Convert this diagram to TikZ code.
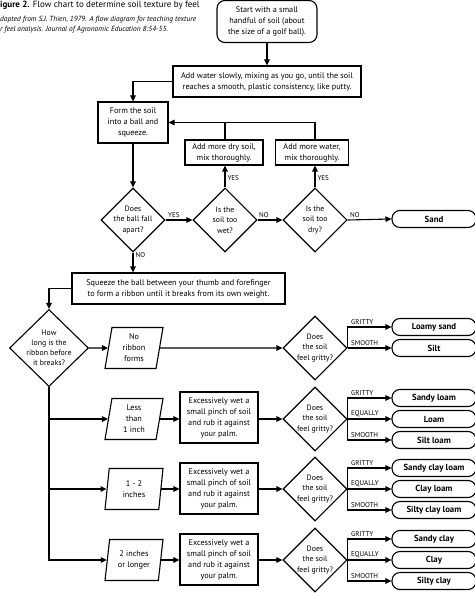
\documentclass[tikz,border=0pt]{standalone}
\usepackage{fontspec}
\setmainfont{PT Sans}
\usetikzlibrary{shapes.geometric,arrows.meta,calc}
\begin{document}
\begin{tikzpicture}[x=1pt,y=-1pt,
 every node/.style={font=\fontsize{8.2}{11}\selectfont},
 box/.style={draw,line width=1.1pt,align=center,inner sep=1pt},
 term/.style={draw,line width=1.1pt,rounded corners=8pt,minimum width=84pt,minimum height=17pt,inner sep=0pt,font=\fontsize{8.8}{10}\selectfont\bfseries},
 dia/.style={draw,diamond,line width=1.1pt,minimum width=64pt,minimum height=64pt,inner sep=0pt},
 dtext/.style={align=center,inner sep=0pt,font=\fontsize{7.8}{10.6}\selectfont},
 para/.style={draw,trapezium,trapezium left angle=76,trapezium right angle=104,trapezium stretches body,line width=1.1pt,minimum width=58pt,minimum height=41pt,inner sep=0pt,align=center},
 lab/.style={font=\fontsize{7}{7}\selectfont,inner sep=0pt},
 conn/.style={line width=1.1pt},
 arr/.style={conn,-{Triangle[length=6pt,width=5.5pt]}}]
\useasboundingbox (0,0) rectangle (474,593);
% caption
\node[anchor=base west,inner sep=0pt,font=\fontsize{9}{10}\selectfont] (cap1) at (0,8) {\textbf{igure 2.} Flow chart to determine soil texture by feel};
\node[anchor=base west,inner sep=0pt,font=\fontsize{7.4}{8}\selectfont\itshape] (cap2) at (0,22) {dapted from S.J. Thien, 1979. A flow diagram for teaching texture};
\node[anchor=base west,inner sep=0pt,font=\fontsize{7.4}{8}\selectfont\itshape] (cap3) at (0,32) {r feel analysis. Journal of Agronomic Education 8:54-55.};
% top part
\node[box,rounded corners=8pt,minimum width=100pt,minimum height=42pt] (start) at (267,21.5) {Start with a small\\handful of soil (about\\the size of a golf ball).};
\node[box,minimum width=188pt,minimum height=31pt] (water) at (267,81.5) {Add water slowly, mixing as you go, until the soil\\reaches a smooth, plastic consistency, like putty.};
\node[box,minimum width=70pt,minimum height=41pt] (form) at (133,122.5) {Form the soil\\into a ball and\\squeeze.};
\node[box,minimum width=78pt,minimum height=25pt] (dry) at (224,152.5) {Add more dry soil,\\mix thoroughly.};
\node[box,minimum width=73pt,minimum height=25pt] (wat2) at (312,152.5) {Add more water,\\mix thoroughly.};
\node[dia,label={[dtext]center:{Does\\the ball fall\\apart?}}] (d1) at (133,220) {};
\node[dia,label={[dtext]center:{Is the\\soil too\\wet?}}] (d2) at (225,220) {};
\node[dia,label={[dtext]center:{Is the\\soil too\\dry?}}] (d3) at (315,220) {};
\node[term] (sand) at (434,219) {Sand};
\node[box,minimum width=213pt,minimum height=31pt] (sq) at (178.5,288.5) {Squeeze the ball between your thumb and forefinger\\to form a ribbon until it breaks from its own weight.};
\node[dia,minimum width=79pt,minimum height=77pt,label={[dtext,font=\fontsize{7.8}{9.8}\selectfont]center:{How\\long is the\\ribbon before\\it breaks?}}] (d4) at (49,348) {};
% row 1
\node[para] (p1) at (134,348) {No\\ribbon\\forms};
\node[dia,label={[dtext]center:{Does\\the soil\\feel gritty?}}] (g1) at (315,348) {};
\node[term] (t11) at (434,327) {Loamy sand};
\node[term] (t12) at (434,348) {Silt};
% row 2
\node[para] (p2) at (134,419) {Less\\than\\1 inch};
\node[box,minimum width=78pt,minimum height=51pt] (e2) at (219,417.5) {Excessively wet a\\small pinch of soil\\and rub it against\\your palm.};
\node[dia,label={[dtext]center:{Does\\the soil\\feel gritty?}}] (g2) at (315,419) {};
\node[term] (t21) at (434,398) {Sandy loam};
\node[term] (t22) at (434,419) {Loam};
\node[term] (t23) at (434,440) {Silt loam};
% row 3
\node[para] (p3) at (134,489) {1 - 2\\inches};
\node[box,minimum width=78pt,minimum height=51pt] (e3) at (219,488.5) {Excessively wet a\\small pinch of soil\\and rub it against\\your palm.};
\node[dia,label={[dtext]center:{Does\\the soil\\feel gritty?}}] (g3) at (315,489) {};
\node[term] (t31) at (434,468) {Sandy clay loam};
\node[term] (t32) at (434,489) {Clay loam};
\node[term] (t33) at (434,510) {Silty clay loam};
% row 4
\node[para] (p4) at (134,560) {2 inches\\or longer};
\node[box,minimum width=78pt,minimum height=51pt] (e4) at (219,559.5) {Excessively wet a\\small pinch of soil\\and rub it against\\your palm.};
\node[dia,label={[dtext]center:{Does\\the soil\\feel gritty?}}] (g4) at (315,560) {};
\node[term] (t41) at (434,539) {Sandy clay};
\node[term] (t42) at (434,560) {Clay};
\node[term] (t43) at (434,581) {Silty clay};
% connectors top
\draw[arr] (start) -- (water);
\draw[arr] (water.west) -| (form.north);
\draw[arr] (form) -- (d1);
\draw[arr] (d1.east) -- node[lab,pos=0,anchor=south west,xshift=2pt,yshift=2pt] {YES} (d2.west);
\draw[arr] (d2.east) -- node[lab,pos=0,anchor=south west,xshift=1pt,yshift=2pt] {NO} (d3.west);
\draw[arr] (d3.east) -- node[lab,pos=0,anchor=south west,xshift=2pt,yshift=2pt] {NO} (sand.west);
\draw[arr] (d2.north) -- node[lab,anchor=west,xshift=2pt,pos=0.45] {YES} (d2.north |- dry.south);
\draw[arr] (d3.north) -- node[lab,anchor=west,xshift=2pt,pos=0.45] {YES} (d3.north |- wat2.south);
\draw[arr] (d3.north |- wat2.north) |- (form.east);
\draw[conn] (d2.north |- dry.north) -- (d2.north |- form.east);
\draw[arr] (d1.south) -- node[lab,pos=0.15,anchor=west,xshift=2pt] {NO} (d1.south |- sq.north);
\draw[arr] (sq.west) -| (d4.north);
% left trunk
\draw[arr] (d4.east) -- (p1.west);
\draw[arr] (d4.south) |- (p4.west);
\draw[arr] (d4.south |- p2.west) -- (p2.west);
\draw[arr] (d4.south |- p3.west) -- (p3.west);
% rows
\draw[arr] (p1.east) -- (g1.west);
\draw[arr] (g1.east) |- node[lab,pos=0.5,anchor=south west,xshift=3pt,yshift=2pt] {GRITTY} (t11.west);
\draw[arr] (g1.east) -- node[lab,pos=0,anchor=south west,xshift=3pt,yshift=2pt] {SMOOTH} (t12.west);
\foreach \r in {2,3,4}{
 \draw[arr] (p\r.east) -- (e\r.west |- p\r.east);
 \draw[arr] (e\r.east |- g\r.west) -- (g\r.west);
 \draw[arr] (g\r.east) |- node[lab,pos=0.5,anchor=south west,xshift=3pt,yshift=2pt] {GRITTY} (t\r1.west);
 \draw[arr] (g\r.east) -- node[lab,pos=0,anchor=south west,xshift=3pt,yshift=2pt] {EQUALLY} (t\r2.west);
 \draw[arr] (g\r.east) |- node[lab,pos=0.5,anchor=south west,xshift=3pt,yshift=2pt] {SMOOTH} (t\r3.west);
}
\end{tikzpicture}
\end{document}
